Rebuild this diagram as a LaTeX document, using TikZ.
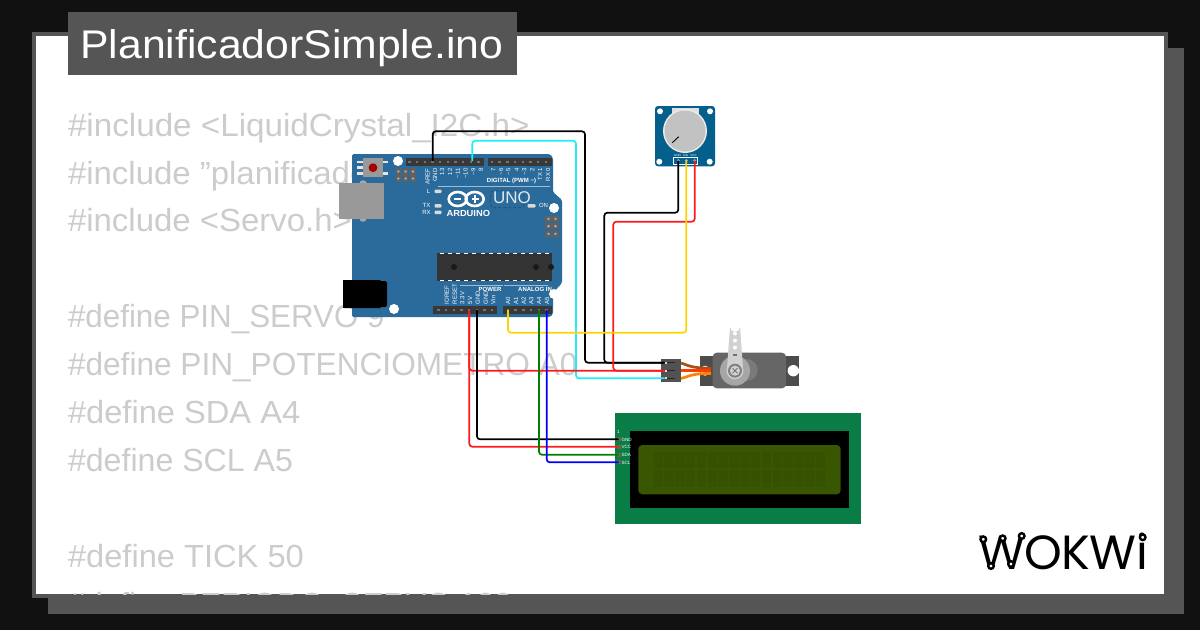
\documentclass[tikz,border=0pt]{standalone}
\usepackage{fontspec}
\usepackage{graphicx}
\setmainfont{Liberation Sans}
\newfontfamily\logofont{Poppins}
\usetikzlibrary{calc}
\definecolor{bgdark}{HTML}{111111}
\definecolor{framegray}{HTML}{555555}
\definecolor{codegray}{HTML}{CCCCCC}
\definecolor{unoblue}{HTML}{2B6B9B}
\definecolor{potblue}{HTML}{045F8D}
\definecolor{lcdgreen}{HTML}{0A7D46}
\definecolor{lcdscreen}{HTML}{395600}
\definecolor{lcdchar}{HTML}{365200}
\definecolor{wred}{HTML}{FF1A1A}
\definecolor{wyellow}{HTML}{FFD500}
\definecolor{wcyan}{HTML}{1FF0F5}
\definecolor{wgreen}{HTML}{008000}
\definecolor{wblue}{HTML}{0000FF}
\newcommand{\codeline}[2]{\scalebox{#1}[1]{#2}}
\tikzset{
  every node/.style={inner sep=0pt,outer sep=0pt},
  code/.style={anchor=base west,text=codegray,font=\fontsize{32}{32}\selectfont},
  wire/.style={line width=1.7pt,rounded corners=3pt},
  lbl/.style={text=white,font=\fontsize{6}{6}\selectfont},
  blbl/.style={text=white,font=\fontsize{6}{6}\selectfont\bfseries},
  up/.style={lbl,rotate=90,anchor=east},
  upb/.style={lbl,rotate=90,anchor=west},
  hole/.style={fill=white,draw=none},
  header/.style={fill=black!78,draw=none},
  lcdl/.style={text=white,anchor=west,font=\fontsize{4.6}{5}\selectfont},
  ring/.style={fill=white,draw=black,line width=2.4pt},
}
\begin{document}
\begin{tikzpicture}[x=1pt,y=-1pt]
\useasboundingbox (0,0) rectangle (1200,630);
\fill[bgdark] (0,0) rectangle (1200,630);
% frame
\fill[framegray] (48,48) rectangle (1184,614);
\fill[framegray] (32,32) rectangle (1168,598);
\fill[white] (36,36) rectangle (1164,594);
% code
\begin{scope}
\clip (36,36) rectangle (1164,594);
\node[code] (c1) at (68,136) {\codeline{1.038}{\#include <LiquidCrystal\_I2C.h>}};
\node[code] (c2) at (68,184) {\codeline{1.03}{\#include \char"22 planificador.h\char"22}};
\node[code] (c3) at (68,231) {\codeline{1.03}{\#include <Servo.h>}};
\node[code] (c4) at (68,327) {\codeline{0.98}{\#define PIN\_SERVO 9}};
\node[code] (c5) at (68,375) {\codeline{0.988}{\#define PIN\_POTENCIOMETRO A0}};
\node[code] (c6) at (68,423) {\codeline{1.02}{\#define SDA A4}};
\node[code] (c7) at (68,471) {\codeline{1.004}{\#define SCL A5}};
\node[code] (c8) at (68,567) {\codeline{1.02}{\#define TICK 50}};
\node[code] (c9) at (68,615) {\codeline{0.98}{\#define PERIODO\_SERVO 100}};
\end{scope}
% title
\fill[framegray] (68,12) rectangle (516.5,75);
\node[anchor=base west,text=white,font=\fontsize{40}{40}\selectfont] (title) at (80.5,58) {\codeline{1.068}{PlanificadorSimple.ino}};

% ---------- Arduino
\fill[black] (343,280) rectangle (381,308);
\fill[unoblue,rounded corners=1.5pt] (352,154) -- (550,154) -- (553,158) -- (553,192) -- (562,200) -- (562,283) -- (553,293) -- (553,314) -- (550,317) -- (352,317) -- cycle;
% power jack over edge
\fill[black,rounded corners=1pt] (343,280) rectangle (381,308);
\fill[black,rounded corners=2pt] (378,281) rectangle (387,307);
% usb
\fill[black!35] (363,184) circle (3.8);
\fill[black!35] (363,218) circle (3.8);
\fill[black!40] (339,183) rectangle (384,219);
% reset
\foreach \y in {161.7,167.3,173.3}\fill[white!90!black] (357,\y-1.2) rectangle (363,\y+1.2);
\foreach \y in {161.7,173.3}\fill[white!90!black] (382,\y-1.2) rectangle (387.5,\y+1.2);
\fill[black!40] (363,158) rectangle (382.5,177);
\fill[red!65!black] (373,167.7) circle (4.4);
% holes
\fill[hole] (398,161) circle (5);
\fill[hole] (394,309) circle (5);
\fill[hole] (554,208) circle (5);
\fill[hole] (554,294) circle (5);
% ICSP
\foreach \x in {395.7,403,410.3}{
  \fill[black!62] (\x,168) rectangle +(5.3,14);
  \foreach \y in {171.5,178.5}\fill[black!30] (\x+2.65,\y) circle (1.3);
}
\foreach \y in {216,223.4,231}{
  \fill[black!62] (545,\y) rectangle +(14,5.7);
  \foreach \x in {548.5,555.5}\fill[black!30] (\x,\y+2.85) circle (1.3);
}
% headers
\fill[header] (405.7,158) rectangle (484,165.5);
\fill[header] (488,158) rectangle (552,165.5);
\fill[header] (433,306) rectangle (497,313.5);
\fill[header] (503,306) rectangle (552,313.5);
\foreach \i in {0,...,9}\fill[black!55] ({409.5+7.68*\i-1.2},160.5) rectangle +(2.4,2.4);
\foreach \i in {0,...,7}\fill[black!55] ({492+7.68*\i-1.2},160.5) rectangle +(2.4,2.4);
\foreach \i in {0,...,7}\fill[black!55] ({438.5+7.68*\i-1.2},308.5) rectangle +(2.4,2.4);
\foreach \i in {0,...,5}\fill[black!55] ({508+7.68*\i-1.2},308.5) rectangle +(2.4,2.4);
% chip
\fill[black!80] (437,253) rectangle (552,281);
\foreach \i in {0,...,13}{
  \fill[white] ({440+8.1*\i},253) rectangle +(4,1);
  \fill[white] ({440+8.1*\i},280) rectangle +(4,1);
}
\fill[black!90] (454,267) circle (3);
\fill[black!90] (536,267) circle (3);
\fill[black!90] (551,267) circle (3);
% top labels
\foreach \x/\t in {427.5/AREF,435/GND,442/13,450/12,457.7/\textasciitilde11,465.5/\textasciitilde10,473.3/\textasciitilde9,480.7/8,493.3/7,501/\textasciitilde6,508.3/\textasciitilde5,516.7/4,524.3/\textasciitilde3,532.3/2,540/TX\,1,548/RX\,0}
  \node[up] at (\x,168.5) {\t};
\node[blbl,anchor=east] (dig) at (536,181) {DIGITAL (PWM \textasciitilde)};
\draw[white!55!unoblue,line width=.8pt] (438,186) -- (550,186);
% bottom labels
\foreach \x/\t in {446.7/IOREF,454.7/RESET,462.3/3.3V,470/5V,477.7/GND,485.7/GND,493.3/Vin,508/A0,516/A1,523.7/A2,531.3/A3,539/A4,547/A5}
  \node[upb] at (\x,304) {\t};
\draw[white!55!unoblue,line width=.7pt] (460,285.5) -- (503,285.5);
\draw[white!55!unoblue,line width=.7pt] (504,285) -- (548,285);
\node[blbl] (pw) at (490,289.5) {POWER};
\node[blbl] (an) at (535,289.5) {ANALOG IN};
% logo
\draw[white,line width=2.6pt] (457.7,199) ellipse (9 and 7);
\draw[white,line width=2.6pt] (474.7,199) ellipse (9 and 7);
\fill[white] (454,198.2) rectangle (461.4,199.8);
\fill[white] (471.5,198.2) rectangle (478.9,199.8);
\fill[white] (474.4,195.3) rectangle (476,202.7);
\node[text=white,font=\fontsize{8.8}{9}\selectfont\bfseries] (ard) at (468.3,213) {\codeline{1.06}{ARDUINO}};
\draw[black!30!unoblue,rounded corners=3pt,line width=.6pt,densely dashed] (490.7,191) rectangle (524,207.7);
\node[text=white!85!unoblue,font=\fontsize{17}{17}\selectfont] (uno) at (512,197.5) {UNO};
% leds
\fill[white!85!black,rounded corners=1pt] (434.5,189.5) rectangle (441.5,193);
\fill[white!85!black,rounded corners=1pt] (434.5,204) rectangle (441.5,207.5);
\fill[white!85!black,rounded corners=1pt] (434.5,210.5) rectangle (441.5,214);
\fill[white!85!black,rounded corners=1pt] (527.5,204) rectangle (535.5,207.5);
\node[lbl] (ll) at (428.5,191.5) {L};
\node[lbl] (tx) at (426.5,205.7) {TX};
\node[lbl] (rx) at (426.5,212.5) {RX};
\node[lbl] (on) at (543.5,205.7) {ON};

% ---------- Potentiometer
\fill[potblue,rounded corners=3pt] (655,106) rectangle (715,166.3);
\foreach \x/\y in {660/111.3,710/111.3,659.3/161.7,709.7/161.7}\fill[hole] (\x,\y) circle (3);
\fill[black!12] (671.7,108) rectangle (699,114);
\fill[black!8] (685,131) circle (22);
\fill[black!24] (685,131) circle (20.5);
\draw[black,line width=.9pt] (672.3,142.7) -- (678.7,136.7);
\draw[white,line width=.6pt] (673,157) rectangle (697.3,164);
\foreach \x in {678.3,686.3,694.7}\fill[black!30] (\x,160.5) circle (1.5);
\node[text=white,font=\fontsize{3}{3}\selectfont] at (677.5,155) {GND};
\node[text=white,font=\fontsize{3}{3}\selectfont] at (685.5,155) {SIG};
\node[text=white,font=\fontsize{3}{3}\selectfont] at (693.5,155) {VCC};

% ---------- Servo
\fill[black!70] (700,355.7) rectangle (798.7,385.7);
\fill[hole] (793.3,370.7) circle (5.7);
\fill[hole] (793.3,368.7) rectangle (798.7,372.7);
\fill[hole] (705,370.7) circle (5);
\fill[black!60,rounded corners=4pt] (712.7,352.7) rectangle (786,388.3);
\fill[black!52] (746.7,370) circle (11);
\fill[black!35] (735,370.7) circle (15);
\fill[black!18] (730,327) arc (180:0:5) -- (743,368) -- (727,368) -- cycle;
\foreach \y in {333.5,340.5,347.5}\fill[hole] (735,\y) circle (2);
\fill[black!55] (733,354) rectangle (737,356);
\fill[black!18] (735,370.7) circle (8.5);
\fill[black!50] (735,370.7) circle (7);
\fill[black!18] (735,370.7) circle (5);
\draw[black!60,line width=.7pt] (732.5,368.2) -- (737.5,373.2) (737.5,368.2) -- (732.5,373.2);
% servo cable
\draw[line width=2.7pt,color={rgb,255:red,170;green,80;blue,20}] (681,363) .. controls (688,365) and (690,368.2) .. (711,368.2);
\draw[line width=2.7pt,color={rgb,255:red,255;green,130;blue,0}] (681,378.5) .. controls (688,377) and (690,373.4) .. (711,373.4);
\draw[line width=2.7pt,color={rgb,255:red,255;green,60;blue,0}] (681,370.8) -- (711,370.8);
% connector
\fill[black!68] (661,359.3) rectangle (681,381.7);
\foreach \y in {362.7,370.7,378.3}{
  \fill[white!85!black] (664.5,\y-1) rectangle +(2.5,2);
  \fill[black!85] (667,\y-.5) rectangle +(8,1);
}

% ---------- LCD
\fill[lcdgreen] (615,413.3) rectangle (860.7,523.7);
\fill[black] (630,431) rectangle (849,508.3);
\fill[lcdscreen,rounded corners=4pt] (638.3,445) rectangle (840.7,494.3);
\foreach \i in {0,...,15}{
  \fill[lcdchar] ({653.5+10.83*\i},451.7) rectangle +(9.4,16.6);
  \fill[lcdchar] ({653.5+10.83*\i},470) rectangle +(9.4,16.6);
}
\foreach \y in {439.3,446.7,454.7,462.3}{
  \fill[black!45!yellow!60!black] (616.5,\y-2) rectangle +(4,4);
}
\node[lcdl] (l1) at (617,432) {1};
\node[lcdl] (lg) at (621.5,439.5) {GND};
\node[lcdl] (lv) at (621.5,447) {VCC};
\node[lcdl] (ls) at (621.5,454.8) {SDA};
\node[lcdl] (lc) at (621.5,462.5) {SCL};

% ---------- pins as coordinates
\coordinate (uGNDt) at (432.7,161);
\coordinate (uD9) at (472.3,161);
\coordinate (u5V) at (469.3,310);
\coordinate (uGNDb) at (477,310);
\coordinate (uA0) at (508,310);
\coordinate (uA4) at (539,310);
\coordinate (uA5) at (546.7,310);
\coordinate (pG) at (678.3,160.5);
\coordinate (pS) at (686.3,160.5);
\coordinate (pV) at (694.7,160.5);
\coordinate (sG) at (664.5,362.7);
\coordinate (sV) at (664.5,370.7);
\coordinate (sS) at (664.5,378.3);
\coordinate (lG) at (618.5,439.3);
\coordinate (lV) at (618.5,446.7);
\coordinate (lS) at (618.5,454.7);
\coordinate (lC) at (618.5,462.3);
\coordinate (k1) at (585,131.3);
\coordinate (k2) at (576,140.7);
\coordinate (k3) at (604.3,212.7);
\coordinate (k4) at (613.3,221.7);
\coordinate (k5) at (686.3,332.7);
% ---------- wires
\draw[wire,black] (uGNDt) |- (k1) |- (sG);
\draw[wire,black] (pG) |- (k3) |- (sG);
\draw[wire,wcyan] (uD9) |- (k2) |- (sS);
\draw[wire,wred] (pV) |- (k4) |- (sV);
\draw[wire,wred] (u5V) |- (sV);
\draw[wire,wyellow] (pS) |- (uA0 |- k5) -- (uA0);
\draw[wire,wred] (u5V) |- (lV);
\draw[wire,black] (uGNDb) |- (lG);
\draw[wire,wgreen] (uA4) |- (lS);
\draw[wire,wblue] (uA5) |- (lC);

% ---------- wokwi
\node[anchor=base west,text=black,font=\logofont\fontsize{48}{48}\selectfont\addfontfeature{LetterSpace=-1}] (wok) at (978,569) {WOKWi};
\foreach \x/\y in {983.3/539.3,1002.7/538.3,1021.7/536,991/566,1011/564,1142.7/537.3}
  \filldraw[ring] (\x,\y) circle (2.8);
\end{tikzpicture}
\end{document}
